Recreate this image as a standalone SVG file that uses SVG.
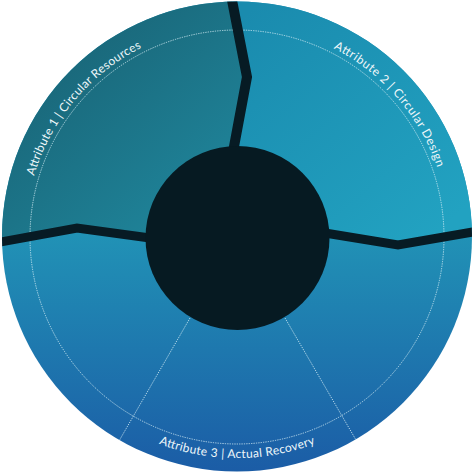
<svg xmlns="http://www.w3.org/2000/svg" width="474" height="474" viewBox="0 0 474 474">
<style>
.sep{fill:none;stroke:#071b24;stroke-linejoin:miter}
.dot{fill:none;stroke:#d6eef6;stroke-width:0.9;stroke-dasharray:1.3 1.1;opacity:0.9}
.lbl{font-family:"Lato","Liberation Sans",sans-serif;font-size:12px;fill:#eef7fa}
</style>
<defs>
<clipPath id="disc"><circle cx="237" cy="236.5" r="235"/></clipPath>
<linearGradient id="gBot" x1="0" y1="230" x2="0" y2="472" gradientUnits="userSpaceOnUse">
<stop offset="0" stop-color="#2193b6"/><stop offset="1" stop-color="#1b5ca6"/>
</linearGradient>
<linearGradient id="gTL" x1="40" y1="40" x2="200" y2="220" gradientUnits="userSpaceOnUse">
<stop offset="0" stop-color="#196476"/><stop offset="1" stop-color="#1f859b"/>
</linearGradient>
<linearGradient id="gTR" x1="250" y1="10" x2="440" y2="230" gradientUnits="userSpaceOnUse">
<stop offset="0" stop-color="#1a8bae"/><stop offset="1" stop-color="#22a2c1"/>
</linearGradient>
<path id="arc1" d="M28.2,273.8 A212,212 0 0 1 237,25"/>
<path id="arc2" d="M233.3,25 A212,212 0 0 1 446.4,270.2"/>
<path id="arc3" d="M67.7,379.1 A221,221 0 0 0 406.3,379.1"/>
</defs>
<g id="wheel" clip-path="url(#disc)">
<rect x="0" y="0" width="474" height="474" fill="url(#gBot)"/>
<polygon id="seg1" points="-10,-10 230,-10 247,77 233,150 237,237 150,238 77,228 -10,243.5" fill="url(#gTL)"/>
<polygon id="seg2" points="230,-10 484,-10 484,230 398,245 325,233 237,237 233,150 247,77" fill="url(#gTR)"/>
<circle class="dot" cx="237" cy="237" r="207"/>
<line class="dot" x1="190" y1="318" x2="119" y2="441"/>
<line class="dot" x1="285" y1="318" x2="356" y2="440"/>
</g>
<g id="connectors" clip-path="url(#disc)">
<polyline class="sep" stroke-width="10" points="230,-10 247,77 233,152"/>
<polyline class="sep" stroke-width="9" points="-10,244 77,228 150,238"/>
<polyline class="sep" stroke-width="9" points="325,233 398,245 484,230"/>
</g>
<g id="hub"><circle cx="237.5" cy="238" r="92" fill="#061a22"/></g>
<g id="label1"><text class="lbl"><textPath href="#arc1" startOffset="50%" text-anchor="middle" textLength="172" lengthAdjust="spacing">Attribute 1 | Circular Resources</textPath></text></g>
<g id="label2"><text class="lbl"><textPath href="#arc2" startOffset="50%" text-anchor="middle" textLength="162" lengthAdjust="spacing">Attribute 2 | Circular Design</textPath></text></g>
<g id="label3"><text class="lbl"><textPath href="#arc3" startOffset="50%" text-anchor="middle" textLength="160" lengthAdjust="spacing">Attribute 3 | Actual Recovery</textPath></text></g>
</svg>
